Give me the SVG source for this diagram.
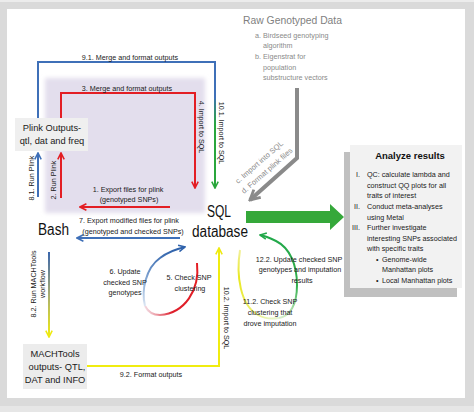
<svg xmlns="http://www.w3.org/2000/svg" width="474" height="412" viewBox="0 0 474 412">
<defs>
<style>
.t{font-family:"Liberation Sans",Arial,sans-serif;font-size:7.2px;fill:#1a1a1a}
.c{text-anchor:middle}
.g{fill:#8a8a8a}
.big{font-family:"Liberation Sans",Arial,sans-serif;fill:#111}
.ln{fill:none;stroke-width:2}
.box{font-family:"Liberation Sans",Arial,sans-serif;fill:#1a1a1a;text-anchor:middle}
</style>
<marker id="ah-blue" viewBox="0 0 10 10" refX="9" refY="5" markerWidth="8" markerHeight="8" markerUnits="userSpaceOnUse" orient="auto"><path d="M1,1 L9,5 L1,9" fill="none" stroke="#3f70b8" stroke-width="2"/></marker>
<marker id="ah-red" viewBox="0 0 10 10" refX="9" refY="5" markerWidth="8" markerHeight="8" markerUnits="userSpaceOnUse" orient="auto"><path d="M1,1 L9,5 L1,9" fill="none" stroke="#e31e24" stroke-width="2"/></marker>
<marker id="ah-green" viewBox="0 0 10 10" refX="9" refY="5" markerWidth="8" markerHeight="8" markerUnits="userSpaceOnUse" orient="auto"><path d="M1,1 L9,5 L1,9" fill="none" stroke="#2aa63c" stroke-width="2"/></marker>
<marker id="ah-yellow" viewBox="0 0 10 10" refX="9" refY="5" markerWidth="8" markerHeight="8" markerUnits="userSpaceOnUse" orient="auto"><path d="M1,1 L9,5 L1,9" fill="none" stroke="#eeea10" stroke-width="2"/></marker>
<marker id="ah-gray" viewBox="0 0 10 10" refX="8.5" refY="5" markerWidth="13" markerHeight="13" markerUnits="userSpaceOnUse" orient="auto"><path d="M1,1 L8.5,5 L1,9" fill="none" stroke="#8a8a8a" stroke-width="2.2"/></marker>
<marker id="ah-lblue" viewBox="0 0 10 10" refX="9" refY="5" markerWidth="8" markerHeight="8" markerUnits="userSpaceOnUse" orient="auto"><path d="M1,1 L9,5 L1,9" fill="none" stroke="#2f62ab" stroke-width="2"/></marker>
<marker id="ah-lgreen" viewBox="0 0 10 10" refX="9" refY="5" markerWidth="8" markerHeight="8" markerUnits="userSpaceOnUse" orient="auto"><path d="M1,1 L9,5 L1,9" fill="none" stroke="#22a84a" stroke-width="2"/></marker>
<linearGradient id="gBG" gradientUnits="userSpaceOnUse" x1="0" y1="95" x2="0" y2="125"><stop offset="0" stop-color="#3f70b8"/><stop offset="1" stop-color="#2aa63c"/></linearGradient>
<linearGradient id="gBY" gradientUnits="userSpaceOnUse" x1="0" y1="252" x2="0" y2="337"><stop offset="0" stop-color="#3a66ad"/><stop offset="0.5" stop-color="#a8ad72"/><stop offset="1" stop-color="#f2ee10"/></linearGradient>
<linearGradient id="gRed" gradientUnits="userSpaceOnUse" x1="200" y1="285" x2="144" y2="308"><stop offset="0" stop-color="#e31e24"/><stop offset="0.6" stop-color="#de1f2c"/><stop offset="1" stop-color="#f3e3ea"/></linearGradient>
<linearGradient id="gBL" gradientUnits="userSpaceOnUse" x1="0" y1="310" x2="0" y2="250"><stop offset="0" stop-color="#eaf0f8"/><stop offset="0.45" stop-color="#8fb0d8"/><stop offset="1" stop-color="#2f62ab"/></linearGradient>
<linearGradient id="gYL" gradientUnits="userSpaceOnUse" x1="238" y1="250" x2="280" y2="318"><stop offset="0" stop-color="#f2f0a0"/><stop offset="0.3" stop-color="#e8e820"/><stop offset="0.75" stop-color="#eef070"/><stop offset="1" stop-color="#e4f4d4"/></linearGradient>
<linearGradient id="gGL" gradientUnits="userSpaceOnUse" x1="0" y1="318" x2="0" y2="240"><stop offset="0" stop-color="#d6efca"/><stop offset="0.4" stop-color="#34b04e"/><stop offset="1" stop-color="#22a84a"/></linearGradient>
<filter id="soft" x="-10%" y="-10%" width="120%" height="120%"><feGaussianBlur stdDeviation="2"/></filter>
</defs>

<g id="frame">
<rect x="0" y="0" width="474" height="412" fill="#dadada"/>
<rect x="0" y="0" width="474" height="2" fill="#ececec"/>
<rect x="0" y="406" width="474" height="6" fill="#e6e6e6"/>
<rect x="7" y="9" width="458" height="389" fill="#ffffff"/>
<rect x="45" y="78" width="160" height="135" fill="#e3deed" filter="url(#soft)"/>
</g>

<g id="connectors">
<g id="c-9-1">
<path class="ln" d="M38,118 V62 H215 V100" stroke="#3f70b8"/>
<path class="ln" d="M215,99 V188" stroke="url(#gBG)" marker-end="url(#ah-green)"/>
<text class="t c" x="130" y="60">9.1. Merge and format outputs</text>
<text class="t c" transform="translate(219,133) rotate(90)">10.1. Import to SQL</text>
</g>
<g id="c-3">
<path class="ln" d="M61,118 V93 H195 V188" stroke="#e31e24" marker-end="url(#ah-red)"/>
<text class="t c" x="127" y="91">3. Merge and format outputs</text>
<text class="t c" transform="translate(199,127) rotate(90)">4. Import to SQL</text>
</g>
<g id="c-8-1">
<path class="ln" d="M38,197 V153" stroke="#3f70b8" marker-end="url(#ah-blue)"/>
<text class="t c" transform="translate(34,178) rotate(-90)">8.1. Run Plink</text>
</g>
<g id="c-2">
<path class="ln" d="M61,198 V153" stroke="#e31e24" marker-end="url(#ah-red)"/>
<text class="t c" transform="translate(56,180) rotate(-90)">2. Run Plink</text>
</g>
<g id="c-1">
<path class="ln" d="M170,207 H80" stroke="#e31e24" marker-end="url(#ah-red)"/>
<text class="t c" x="128" y="192">1. Export  files for plink</text>
<text class="t c" x="129" y="202">(genotyped SNPs)</text>
</g>
<g id="c-7">
<path class="ln" d="M180,238 H77" stroke="#3f70b8" marker-end="url(#ah-blue)"/>
<text class="t c" x="129" y="223">7. Export modified files for plink</text>
<text class="t c" x="133" y="234">(genotyped and checked SNPs)</text>
</g>
<g id="c-8-2">
<path class="ln" d="M49,252 V337" stroke="url(#gBY)" marker-end="url(#ah-yellow)"/>
<text class="t c" transform="translate(36,284) rotate(-90)">8.2. Run MACHTools</text>
<text class="t c" transform="translate(45,284) rotate(-90)">workflow</text>
</g>
<g id="c-9-2">
<path class="ln" d="M87,366 H219 V248" stroke="#f0ec10" marker-end="url(#ah-yellow)"/>
<text class="t c" x="151" y="377">9.2. Format outputs</text>
<text class="t c" transform="translate(224,318) rotate(90)">10.2. Import to SQL</text>
</g>
<g id="c-raw">
<path fill="none" stroke="#8a8a8a" stroke-width="4" d="M297,88 V158 L250,200" marker-end="url(#ah-gray)"/>
<text class="t g" style="font-size:7.5px" transform="translate(238,184) rotate(-41)">c. Import into SQL</text>
<text class="t g" style="font-size:7.5px" transform="translate(244,194) rotate(-41)">d. Format plink files</text>
</g>
<g id="c-analyze">
<polygon points="246,211 330,211 330,204 344,217 330,230 330,223 246,223" fill="#35a83a"/>
</g>
<g id="c-5-6">
<path class="ln" d="M197,263 C200,290 185,313 160,315 C153,315 148,312 145,306" stroke="url(#gRed)"/>
<path class="ln" d="M145,306 C141,290 146,268 160,258 C168,252 176,249 185,247" stroke="url(#gBL)" marker-end="url(#ah-lblue)"/>
<text class="t c" x="125" y="274">6. Update</text>
<text class="t c" x="125" y="285">checked SNP</text>
<text class="t c" x="125" y="295">genotypes</text>
<text class="t c" x="189" y="280">5. Check SNP</text>
<text class="t c" x="190" y="291">clustering</text>
</g>
<g id="c-11-12">
<path class="ln" d="M240,250 C236,275 240,305 258,315 C265,319 272,319 279,318" stroke="url(#gYL)"/>
<path class="ln" d="M279,318 C290,316 297,305 297,285 C297,265 290,248 276,241 C270,238 266,236 260,235" stroke="url(#gGL)" marker-end="url(#ah-lgreen)"/>
<text class="t c" x="299" y="262">12.2. Update checked SNP</text>
<text class="t c" x="300" y="272">genotypes and imputation</text>
<text class="t c" x="302" y="283">results</text>
<text class="t c" x="270" y="304">11.2. Check SNP</text>
<text class="t c" x="270" y="315">clustering that</text>
<text class="t c" x="270" y="326">drove imputation</text>
</g>
</g>

<g id="plink-outputs">
<rect x="15" y="118" width="73" height="33" fill="#efefef"/>
<text class="box" style="font-size:9.3px" x="52" y="131">Plink Outputs-</text>
<text class="box" style="font-size:9.3px" x="52" y="144">qtl, dat and freq</text>
</g>

<g id="bash">
<text class="big" style="font-size:16px" x="38" y="235" textLength="31" lengthAdjust="spacingAndGlyphs">Bash</text>
</g>

<g id="sql-database">
<text class="big" style="font-size:16px" x="207" y="217" textLength="24" lengthAdjust="spacingAndGlyphs">SQL</text>
<text class="big" style="font-size:16px" x="192" y="237" textLength="56" lengthAdjust="spacingAndGlyphs">database</text>
</g>

<g id="raw-genotyped-data">
<text style="font-family:'Liberation Sans',Arial,sans-serif;font-size:11.5px;fill:#7f7f7f" x="243" y="24" textLength="99" lengthAdjust="spacingAndGlyphs">Raw Genotyped Data</text>
<text class="t g" x="255" y="38">a.</text>
<text class="t g" x="263" y="38">Birdseed genotyping</text>
<text class="t g" x="263" y="48">algorithm</text>
<text class="t g" x="255" y="59">b.</text>
<text class="t g" x="263" y="59">Eigenstrat for</text>
<text class="t g" x="263" y="70">population</text>
<text class="t g" x="263" y="80">substructure vectors</text>
</g>

<g id="analyze-results">
<rect x="344" y="152" width="113" height="145" fill="#c0c0c0"/>
<rect x="350" y="145" width="112" height="143" fill="#f2f2f2"/>
<text x="410" y="159" style="font-family:'Liberation Sans',Arial,sans-serif;font-size:9.5px;font-weight:bold;fill:#111;text-anchor:middle">Analyze results</text>
<g class="t">
<text class="t" x="360" y="177" text-anchor="end">I.</text>
<text class="t" x="367" y="177">QC: calculate lambda and</text>
<text class="t" x="367" y="188">construct QQ plots for all</text>
<text class="t" x="367" y="198">traits of interest</text>
<text class="t" x="360" y="209" text-anchor="end">II.</text>
<text class="t" x="367" y="209">Conduct meta-analyses</text>
<text class="t" x="367" y="220">using Metal</text>
<text class="t" x="360" y="230" text-anchor="end">III.</text>
<text class="t" x="367" y="230">Further investigate</text>
<text class="t" x="367" y="241">interesting SNPs  associated</text>
<text class="t" x="367" y="251">with specific traits</text>
<text class="t" x="376" y="262">•</text>
<text class="t" x="382" y="262">Genome-wide</text>
<text class="t" x="382" y="272">Manhattan plots</text>
<text class="t" x="376" y="283">•</text>
<text class="t" x="382" y="283">Local Manhattan plots</text>
</g>
</g>

<g id="machtools-outputs">
<rect x="23" y="344" width="64" height="45" fill="#ececec"/>
<text class="box" style="font-size:9.3px" x="55" y="357">MACHTools</text>
<text class="box" style="font-size:9.3px" x="57" y="370">outputs- QTL,</text>
<text class="box" style="font-size:9.3px" x="55" y="383">DAT and INFO</text>
</g>
</svg>
